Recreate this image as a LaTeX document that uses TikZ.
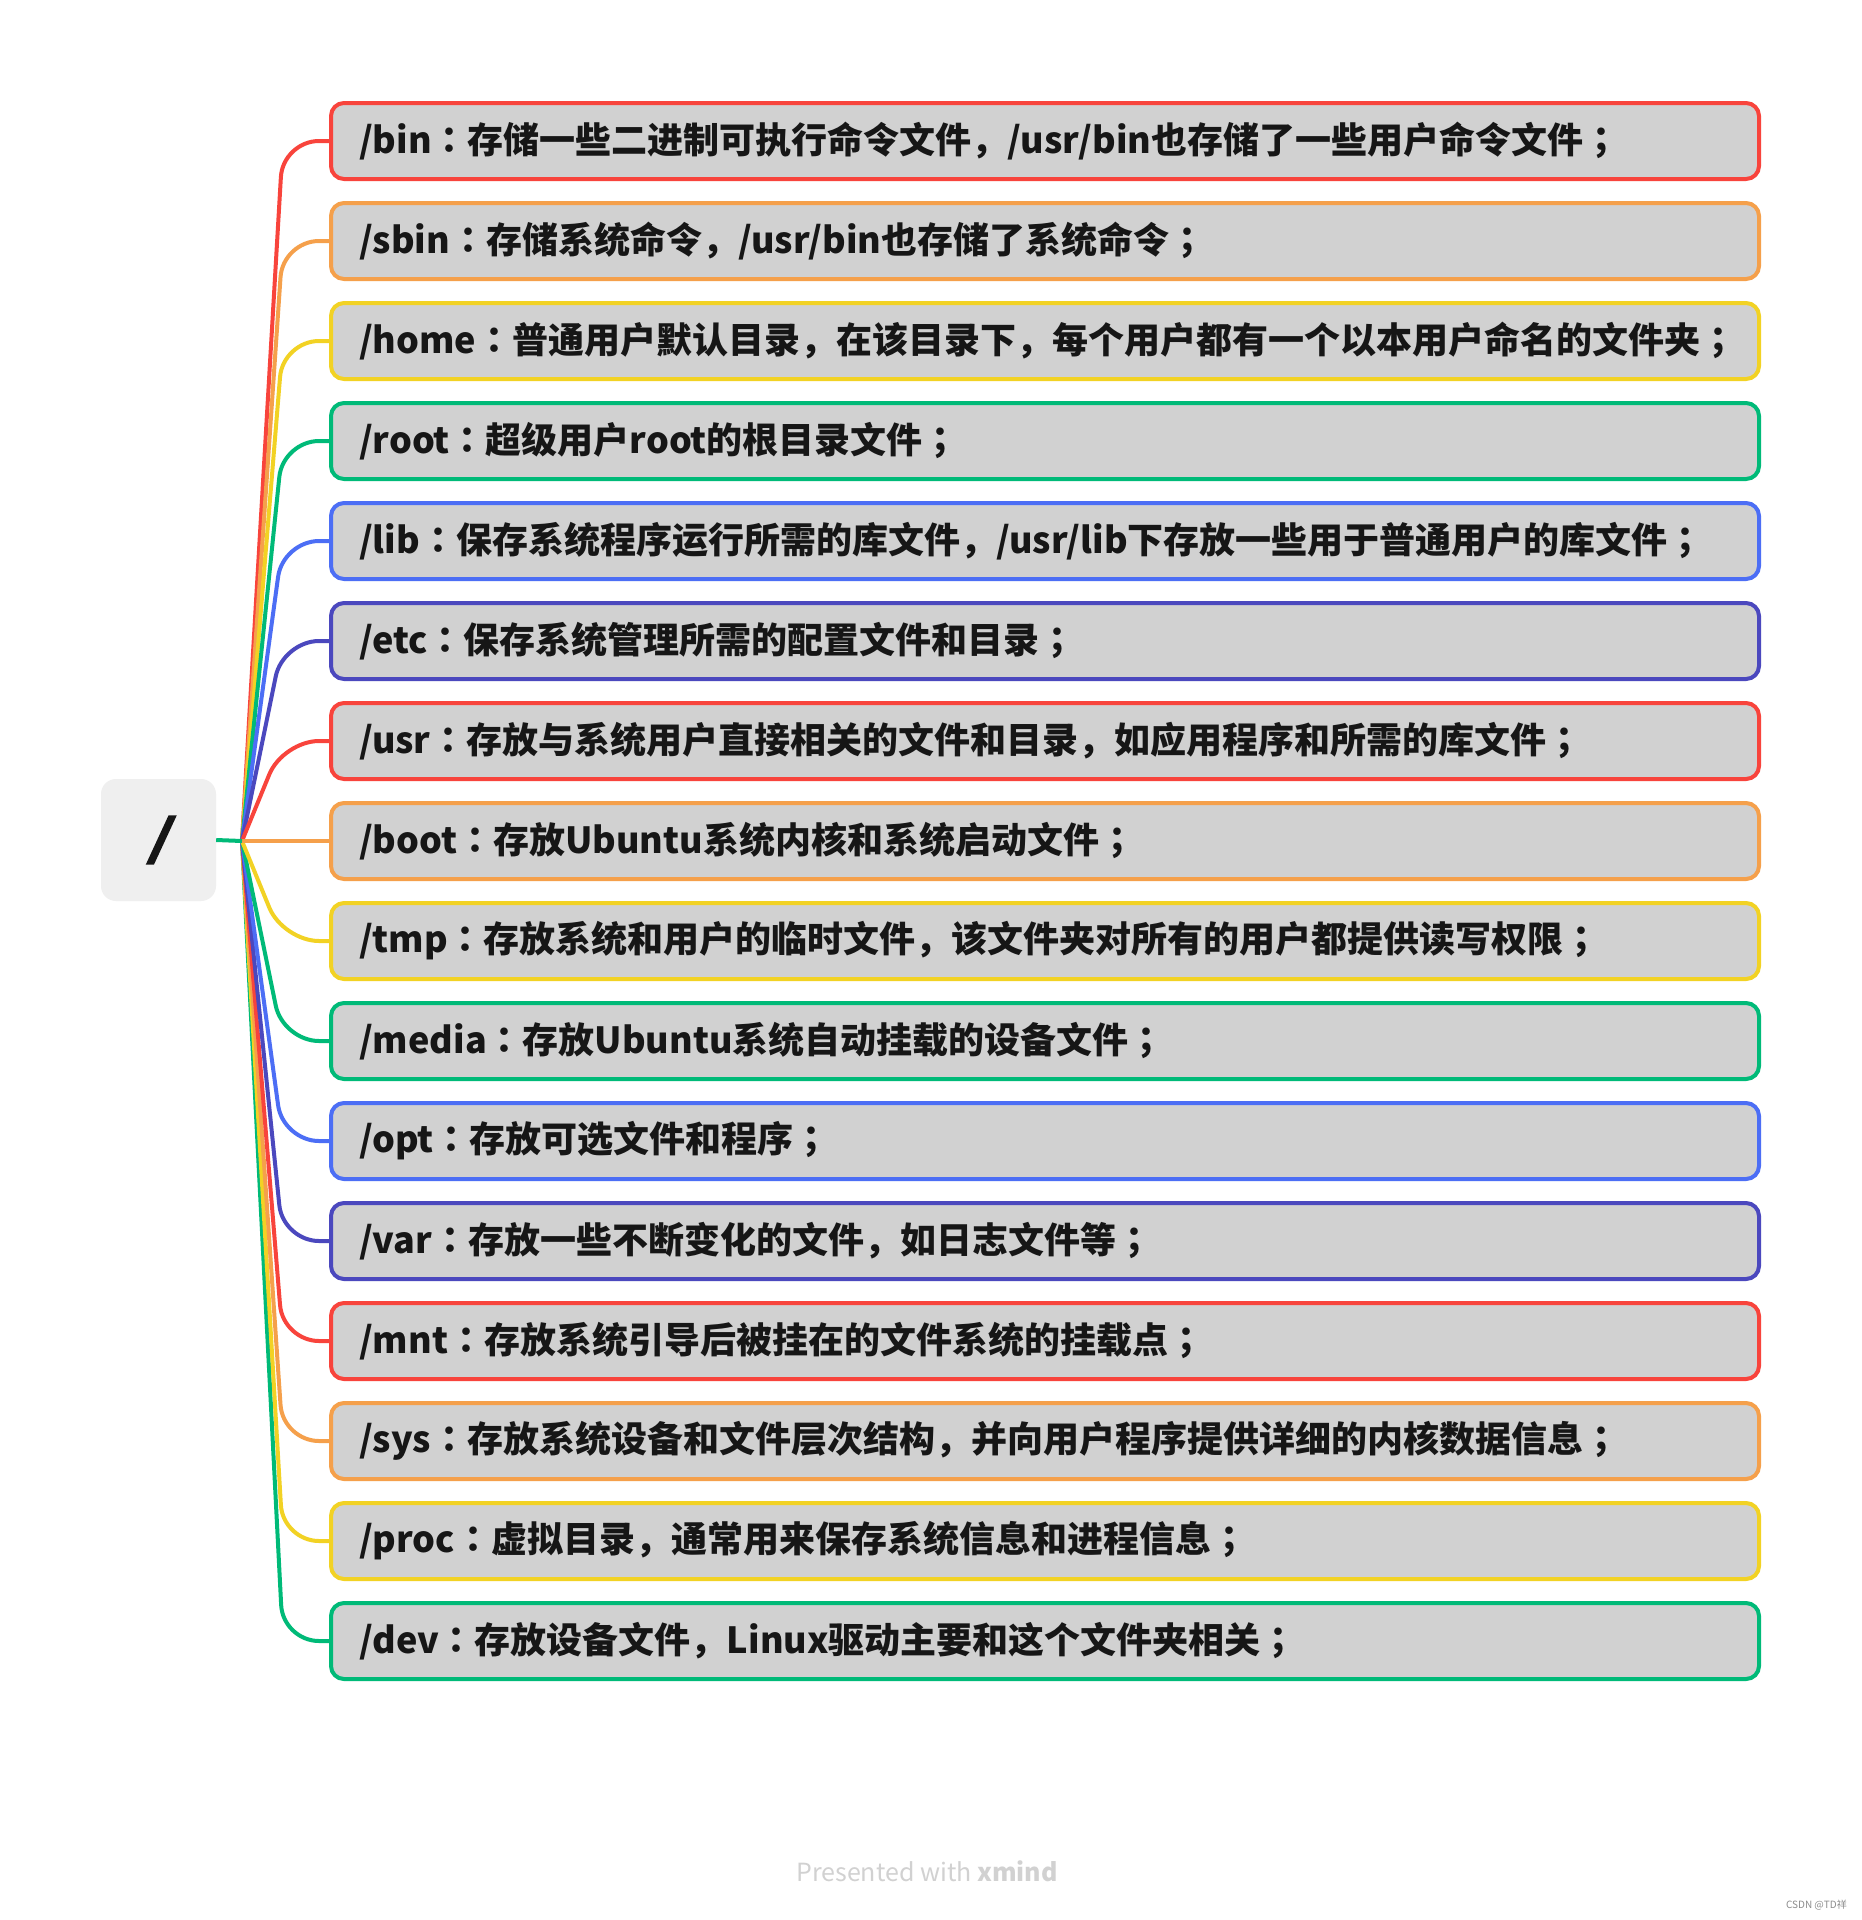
\documentclass[tikz,border=0pt]{standalone}
\usepackage{fontspec}
\setmainfont{Noto Sans CJK SC}
\newfontfamily\jpfont{Noto Sans CJK JP}
\newfontfamily\slashfont{DejaVu Sans}[FakeBold=3, FakeSlant=0.15]
\newcommand{\fcolon}{{\jpfont ：}}
\newcommand{\fsemi}{{\jpfont ；}}
\definecolor{cred}{HTML}{F8443C}
\definecolor{corange}{HTML}{F5A04B}
\definecolor{cyellow}{HTML}{F2D224}
\definecolor{cgreen}{HTML}{00BA78}
\definecolor{cblue}{HTML}{4C6EF5}
\definecolor{cindigo}{HTML}{4B48BE}
\definecolor{boxfill}{HTML}{D1D1D1}
\definecolor{rootfill}{HTML}{EFEFEF}
\definecolor{txt}{HTML}{161616}
\tikzset{
  topic/.style={draw, line width=4pt, fill=boxfill, rounded corners=13pt,
    minimum width=1428pt, minimum height=76pt, inner sep=0pt,
    text width=1372pt, align=left, text=txt,
    font=\fontsize{36}{40}\selectfont\bfseries},
  conn/.style={line width=4pt, rounded corners=36pt},
}
\begin{document}
\begin{tikzpicture}[x=1pt,y=-1pt]
\useasboundingbox (0,0) rectangle (1862,1920);
\fill[white] (0,0) rectangle (1862,1920);
\node[fill=rootfill, rounded corners=15pt, minimum width=115pt, minimum height=122pt, inner sep=0pt,
  text=txt, font=\fontsize{58}{62}\slashfont\bfseries] (root) at (158.5,840) {/};
\coordinate (J) at (242,841);
\node[topic, draw=cred] (n0) at (1045,141) {/bin\fcolon 存储一些二进制可执行命令文件，/usr/bin也存储了一些用户命令文件\fsemi};
\node[topic, draw=corange] (n1) at (1045,241) {/sbin\fcolon 存储系统命令，/usr/bin也存储了系统命令\fsemi};
\node[topic, draw=cyellow] (n2) at (1045,341) {/home\fcolon 普通用户默认目录，在该目录下，每个用户都有一个以本用户命名的文件夹\fsemi};
\node[topic, draw=cgreen] (n3) at (1045,441) {/root\fcolon 超级用户root的根目录文件\fsemi};
\node[topic, draw=cblue] (n4) at (1045,541) {/lib\fcolon 保存系统程序运行所需的库文件，/usr/lib下存放一些用于普通用户的库文件\fsemi};
\node[topic, draw=cindigo] (n5) at (1045,641) {/etc\fcolon 保存系统管理所需的配置文件和目录\fsemi};
\node[topic, draw=cred] (n6) at (1045,741) {/usr\fcolon 存放与系统用户直接相关的文件和目录，如应用程序和所需的库文件\fsemi};
\node[topic, draw=corange] (n7) at (1045,841) {/boot\fcolon 存放Ubuntu系统内核和系统启动文件\fsemi};
\node[topic, draw=cyellow] (n8) at (1045,941) {/tmp\fcolon 存放系统和用户的临时文件，该文件夹对所有的用户都提供读写权限\fsemi};
\node[topic, draw=cgreen] (n9) at (1045,1041) {/media\fcolon 存放Ubuntu系统自动挂载的设备文件\fsemi};
\node[topic, draw=cblue] (n10) at (1045,1141) {/opt\fcolon 存放可选文件和程序\fsemi};
\node[topic, draw=cindigo] (n11) at (1045,1241) {/var\fcolon 存放一些不断变化的文件，如日志文件等\fsemi};
\node[topic, draw=cred] (n12) at (1045,1341) {/mnt\fcolon 存放系统引导后被挂在的文件系统的挂载点\fsemi};
\node[topic, draw=corange] (n13) at (1045,1441) {/sys\fcolon 存放系统设备和文件层次结构，并向用户程序提供详细的内核数据信息\fsemi};
\node[topic, draw=cyellow] (n14) at (1045,1541) {/proc\fcolon 虚拟目录，通常用来保存系统信息和进程信息\fsemi};
\node[topic, draw=cgreen] (n15) at (1045,1641) {/dev\fcolon 存放设备文件，Linux驱动主要和这个文件夹相关\fsemi};
% connectors
\draw[conn, cgreen] (J) -- (283,1641) -- (n15.west);
\draw[conn, cyellow] (J) -- (283,1541) -- (n14.west);
\draw[conn, corange] (J) -- (283,1441) -- (n13.west);
\draw[conn, cred] (J) -- (283,1341) -- (n12.west);
\draw[conn, cindigo] (J) -- (283,1241) -- (n11.west);
\draw[conn, cblue] (J) -- (283,1141) -- (n10.west);
\draw[conn, cgreen] (J) -- (283,1041) -- (n9.west);
\draw[conn, cyellow] (J) -- (283,941) -- (n8.west);
\draw[conn, cred] (J) -- (283,141) -- (n0.west);
\draw[conn, corange] (J) -- (283,241) -- (n1.west);
\draw[conn, cyellow] (J) -- (283,341) -- (n2.west);
\draw[conn, cgreen] (J) -- (283,441) -- (n3.west);
\draw[conn, cblue] (J) -- (283,541) -- (n4.west);
\draw[conn, cindigo] (J) -- (283,641) -- (n5.west);
\draw[conn, cred] (J) -- (283,741) -- (n6.west);
\draw[conn, corange] (J) -- (n7.west);
\draw[line width=4pt, cgreen] (root.east) -- (J);
% watermarks
\node[text=black!18, font=\fontsize{25}{28}\selectfont, inner sep=0pt] (wm) at (927,1871) {Presented with \textbf{xmind}};
\node[text=black!45, font=\fontsize{10}{12}\selectfont, inner sep=0pt, anchor=east] (csdn) at (1847,1905) {CSDN @TD祥};
\end{tikzpicture}
\end{document}
